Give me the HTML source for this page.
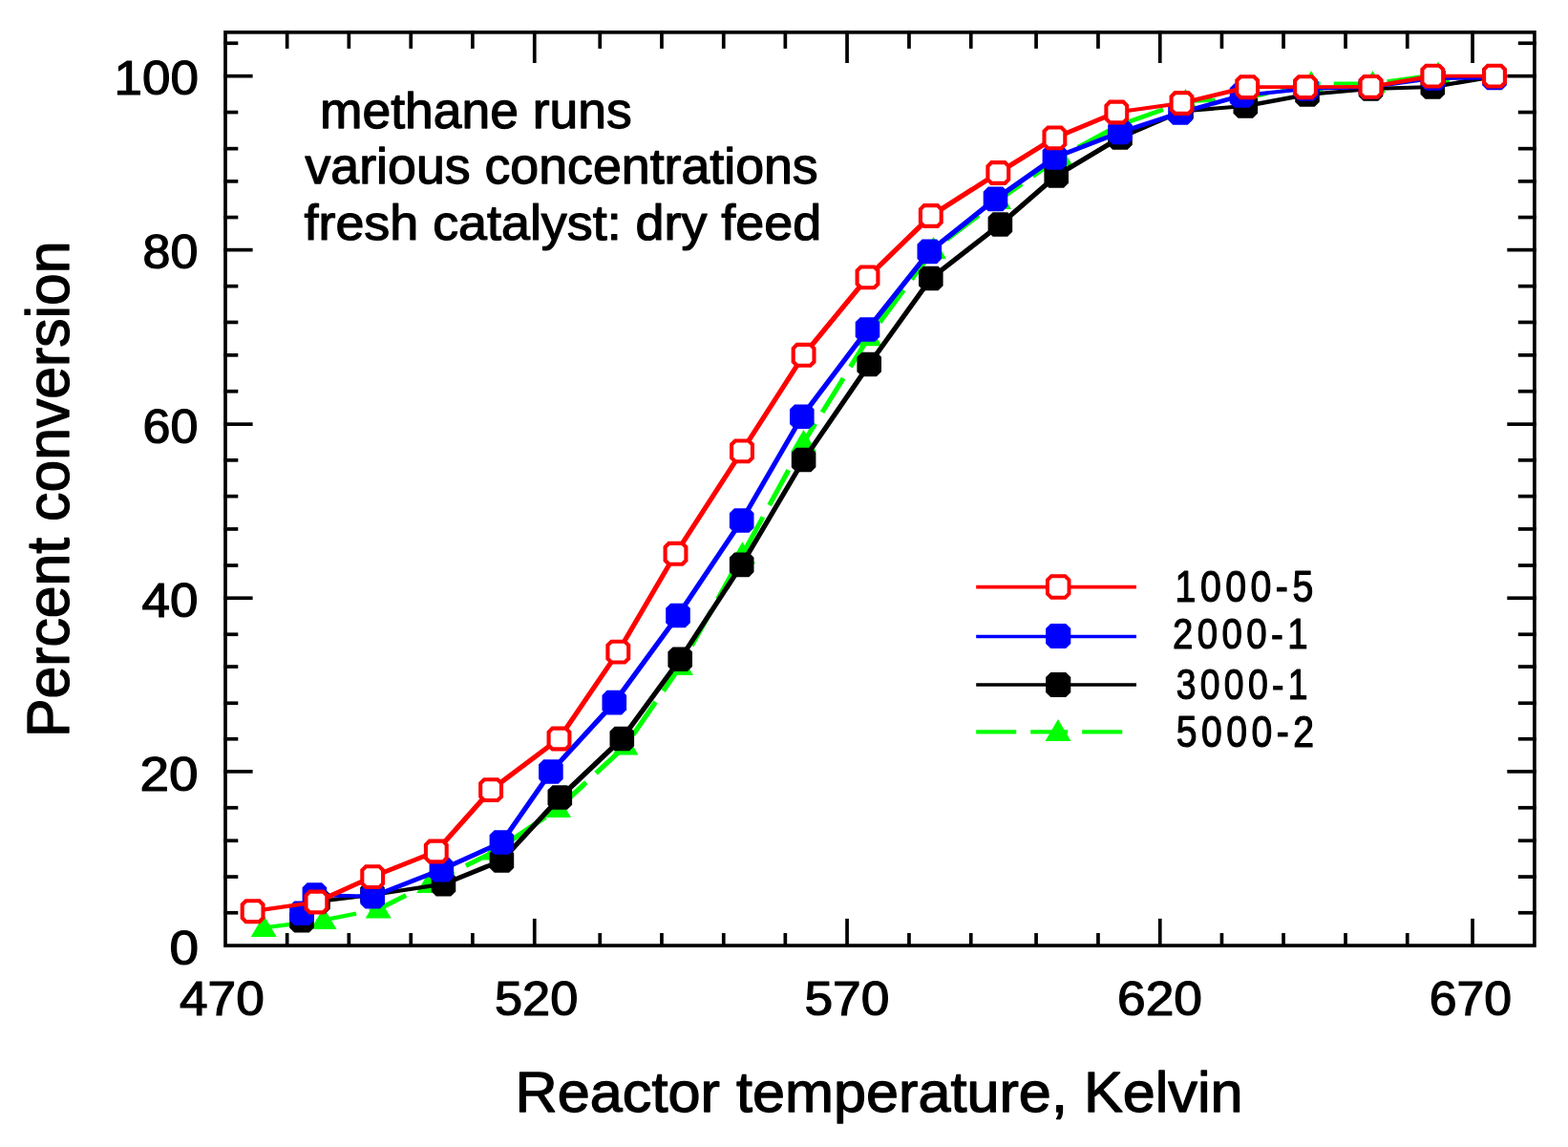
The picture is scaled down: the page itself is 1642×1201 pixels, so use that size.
<!DOCTYPE html>
<html><head><meta charset="utf-8"><title>Percent conversion vs reactor temperature</title>
<style>html,body{margin:0;padding:0;background:#fff;width:1642px;height:1201px;overflow:hidden}svg{display:block}</style>
</head><body>
<svg width="1642" height="1201" viewBox="0 0 1642 1201">
<rect width="1642" height="1201" fill="#fff"/>
<g fill="none" stroke-linejoin="miter" stroke-linecap="butt">
<g stroke-linecap="butt"><line x1="276.2" y1="971.4" x2="339.0" y2="963.4" stroke="#00ff00" stroke-width="4.19" stroke-dasharray="42 14" stroke-dashoffset="0.0"/><line x1="339.0" y1="963.4" x2="396.2" y2="952.0" stroke="#00ff00" stroke-width="4.41" stroke-dasharray="42 14" stroke-dashoffset="63.3"/><line x1="396.2" y1="952.0" x2="449.7" y2="925.4" stroke="#00ff00" stroke-width="5.03" stroke-dasharray="42 14" stroke-dashoffset="121.6"/><line x1="449.7" y1="925.4" x2="519.0" y2="891.0" stroke="#00ff00" stroke-width="5.03" stroke-dasharray="42 14" stroke-dashoffset="181.4"/><line x1="519.0" y1="891.0" x2="584.5" y2="846.4" stroke="#00ff00" stroke-width="5.21" stroke-dasharray="42 14" stroke-dashoffset="258.7"/><line x1="584.5" y1="846.4" x2="655.0" y2="781.0" stroke="#00ff00" stroke-width="5.30" stroke-dasharray="42 14" stroke-dashoffset="338.0"/><line x1="655.0" y1="781.0" x2="712.5" y2="697.4" stroke="#00ff00" stroke-width="5.21" stroke-dasharray="42 14" stroke-dashoffset="434.2"/><line x1="712.5" y1="697.4" x2="777.5" y2="580.7" stroke="#00ff00" stroke-width="5.10" stroke-dasharray="42 14" stroke-dashoffset="535.6"/><line x1="777.5" y1="580.7" x2="841.5" y2="463.4" stroke="#00ff00" stroke-width="5.09" stroke-dasharray="42 14" stroke-dashoffset="669.2"/><line x1="841.5" y1="463.4" x2="910.0" y2="352.7" stroke="#00ff00" stroke-width="5.16" stroke-dasharray="42 14" stroke-dashoffset="802.8"/><line x1="910.0" y1="352.7" x2="977.5" y2="261.4" stroke="#00ff00" stroke-width="5.24" stroke-dasharray="42 14" stroke-dashoffset="933.0"/><line x1="977.5" y1="261.4" x2="1045.5" y2="209.5" stroke="#00ff00" stroke-width="5.26" stroke-dasharray="42 14" stroke-dashoffset="1046.5"/><line x1="1045.5" y1="209.5" x2="1110.0" y2="164.5" stroke="#00ff00" stroke-width="5.22" stroke-dasharray="42 14" stroke-dashoffset="1132.1"/><line x1="1110.0" y1="164.5" x2="1172.0" y2="131.0" stroke="#00ff00" stroke-width="5.08" stroke-dasharray="42 14" stroke-dashoffset="1210.7"/><line x1="1172.0" y1="131.0" x2="1241.5" y2="106.3" stroke="#00ff00" stroke-width="4.79" stroke-dasharray="42 14" stroke-dashoffset="1281.2"/><line x1="1241.5" y1="106.3" x2="1304.0" y2="103.0" stroke="#00ff00" stroke-width="3.94" stroke-dasharray="42 14" stroke-dashoffset="1355.0"/><line x1="1304.0" y1="103.0" x2="1373.0" y2="87.4" stroke="#00ff00" stroke-width="4.48" stroke-dasharray="42 14" stroke-dashoffset="1417.6"/><line x1="1373.0" y1="87.4" x2="1437.5" y2="87.4" stroke="#00ff00" stroke-width="3.75" stroke-dasharray="42 14" stroke-dashoffset="1488.3"/><line x1="1437.5" y1="87.4" x2="1506.0" y2="78.0" stroke="#00ff00" stroke-width="4.23" stroke-dasharray="42 14" stroke-dashoffset="1552.8"/></g>
</g>
<polygon points="276.2,958.0 289.7,981.0 262.7,981.0" fill="#00ff00"/>
<polygon points="339.0,950.0 352.5,973.0 325.5,973.0" fill="#00ff00"/>
<polygon points="396.2,938.6 409.7,961.6 382.7,961.6" fill="#00ff00"/>
<polygon points="449.7,912.0 463.2,935.0 436.2,935.0" fill="#00ff00"/>
<polygon points="519.0,877.6 532.5,900.6 505.5,900.6" fill="#00ff00"/>
<polygon points="584.5,833.0 598.0,856.0 571.0,856.0" fill="#00ff00"/>
<polygon points="655.0,767.6 668.5,790.6 641.5,790.6" fill="#00ff00"/>
<polygon points="712.5,684.0 726.0,707.0 699.0,707.0" fill="#00ff00"/>
<polygon points="777.5,567.3 791.0,590.3 764.0,590.3" fill="#00ff00"/>
<polygon points="841.5,450.0 855.0,473.0 828.0,473.0" fill="#00ff00"/>
<polygon points="910.0,339.3 923.5,362.3 896.5,362.3" fill="#00ff00"/>
<polygon points="977.5,248.0 991.0,271.0 964.0,271.0" fill="#00ff00"/>
<polygon points="1045.5,196.1 1059.0,219.1 1032.0,219.1" fill="#00ff00"/>
<polygon points="1110.0,151.1 1123.5,174.1 1096.5,174.1" fill="#00ff00"/>
<polygon points="1172.0,117.6 1185.5,140.6 1158.5,140.6" fill="#00ff00"/>
<polygon points="1241.5,92.9 1255.0,115.9 1228.0,115.9" fill="#00ff00"/>
<polygon points="1304.0,89.6 1317.5,112.6 1290.5,112.6" fill="#00ff00"/>
<polygon points="1373.0,74.0 1386.5,97.0 1359.5,97.0" fill="#00ff00"/>
<polygon points="1437.5,74.0 1451.0,97.0 1424.0,97.0" fill="#00ff00"/>
<polygon points="1506.0,64.6 1519.5,87.6 1492.5,87.6" fill="#00ff00"/>
<g stroke-linecap="round"><line x1="316.0" y1="963.8" x2="333.0" y2="944.0" stroke="#000000" stroke-width="5.29"/><line x1="333.0" y1="944.0" x2="390.0" y2="937.0" stroke="#000000" stroke-width="4.18"/><line x1="390.0" y1="937.0" x2="464.5" y2="925.7" stroke="#000000" stroke-width="4.27"/><line x1="464.5" y1="925.7" x2="525.4" y2="901.0" stroke="#000000" stroke-width="4.88"/><line x1="525.4" y1="901.0" x2="586.3" y2="835.0" stroke="#000000" stroke-width="5.30"/><line x1="586.3" y1="835.0" x2="651.3" y2="773.5" stroke="#000000" stroke-width="5.30"/><line x1="651.3" y1="773.5" x2="712.2" y2="690.3" stroke="#000000" stroke-width="5.24"/><line x1="712.2" y1="690.3" x2="776.7" y2="591.4" stroke="#000000" stroke-width="5.19"/><line x1="776.7" y1="591.4" x2="841.6" y2="481.5" stroke="#000000" stroke-width="5.14"/><line x1="841.6" y1="481.5" x2="910.2" y2="381.5" stroke="#000000" stroke-width="5.21"/><line x1="910.2" y1="381.5" x2="974.8" y2="291.5" stroke="#000000" stroke-width="5.23"/><line x1="974.8" y1="291.5" x2="1047.4" y2="235.0" stroke="#000000" stroke-width="5.26"/><line x1="1047.4" y1="235.0" x2="1106.2" y2="184.0" stroke="#000000" stroke-width="5.29"/><line x1="1106.2" y1="184.0" x2="1173.0" y2="144.0" stroke="#000000" stroke-width="5.14"/><line x1="1173.0" y1="144.0" x2="1237.0" y2="116.5" stroke="#000000" stroke-width="4.93"/><line x1="1237.0" y1="116.5" x2="1304.3" y2="111.0" stroke="#000000" stroke-width="4.04"/><line x1="1304.3" y1="111.0" x2="1369.0" y2="99.0" stroke="#000000" stroke-width="4.37"/><line x1="1369.0" y1="99.0" x2="1435.5" y2="93.0" stroke="#000000" stroke-width="4.07"/><line x1="1435.5" y1="93.0" x2="1500.3" y2="91.0" stroke="#000000" stroke-width="3.86"/><line x1="1500.3" y1="91.0" x2="1565.0" y2="80.0" stroke="#000000" stroke-width="4.33"/></g>
<polygon points="308.3,951.0 323.7,951.0 328.8,956.1 328.8,971.5 323.7,976.6 308.3,976.6 303.2,971.5 303.2,956.1" fill="#000000"/>
<polygon points="325.3,931.2 340.7,931.2 345.8,936.3 345.8,951.7 340.7,956.8 325.3,956.8 320.2,951.7 320.2,936.3" fill="#000000"/>
<polygon points="382.3,924.2 397.7,924.2 402.8,929.3 402.8,944.7 397.7,949.8 382.3,949.8 377.2,944.7 377.2,929.3" fill="#000000"/>
<polygon points="456.8,912.9 472.2,912.9 477.3,918.0 477.3,933.4 472.2,938.5 456.8,938.5 451.7,933.4 451.7,918.0" fill="#000000"/>
<polygon points="517.7,888.2 533.1,888.2 538.2,893.3 538.2,908.7 533.1,913.8 517.7,913.8 512.6,908.7 512.6,893.3" fill="#000000"/>
<polygon points="578.6,822.2 594.0,822.2 599.1,827.3 599.1,842.7 594.0,847.8 578.6,847.8 573.5,842.7 573.5,827.3" fill="#000000"/>
<polygon points="643.6,760.7 659.0,760.7 664.1,765.8 664.1,781.2 659.0,786.3 643.6,786.3 638.5,781.2 638.5,765.8" fill="#000000"/>
<polygon points="704.5,677.5 719.9,677.5 725.0,682.6 725.0,698.0 719.9,703.1 704.5,703.1 699.4,698.0 699.4,682.6" fill="#000000"/>
<polygon points="769.0,578.6 784.4,578.6 789.5,583.7 789.5,599.1 784.4,604.2 769.0,604.2 763.9,599.1 763.9,583.7" fill="#000000"/>
<polygon points="833.9,468.7 849.3,468.7 854.4,473.8 854.4,489.2 849.3,494.3 833.9,494.3 828.8,489.2 828.8,473.8" fill="#000000"/>
<polygon points="902.5,368.7 917.9,368.7 923.0,373.8 923.0,389.2 917.9,394.3 902.5,394.3 897.4,389.2 897.4,373.8" fill="#000000"/>
<polygon points="967.1,278.7 982.5,278.7 987.6,283.8 987.6,299.2 982.5,304.3 967.1,304.3 962.0,299.2 962.0,283.8" fill="#000000"/>
<polygon points="1039.7,222.2 1055.1,222.2 1060.2,227.3 1060.2,242.7 1055.1,247.8 1039.7,247.8 1034.6,242.7 1034.6,227.3" fill="#000000"/>
<polygon points="1098.5,171.2 1113.9,171.2 1119.0,176.3 1119.0,191.7 1113.9,196.8 1098.5,196.8 1093.4,191.7 1093.4,176.3" fill="#000000"/>
<polygon points="1165.3,131.2 1180.7,131.2 1185.8,136.3 1185.8,151.7 1180.7,156.8 1165.3,156.8 1160.2,151.7 1160.2,136.3" fill="#000000"/>
<polygon points="1229.3,103.7 1244.7,103.7 1249.8,108.8 1249.8,124.2 1244.7,129.3 1229.3,129.3 1224.2,124.2 1224.2,108.8" fill="#000000"/>
<polygon points="1296.6,98.2 1312.0,98.2 1317.1,103.3 1317.1,118.7 1312.0,123.8 1296.6,123.8 1291.5,118.7 1291.5,103.3" fill="#000000"/>
<polygon points="1361.3,86.2 1376.7,86.2 1381.8,91.3 1381.8,106.7 1376.7,111.8 1361.3,111.8 1356.2,106.7 1356.2,91.3" fill="#000000"/>
<polygon points="1427.8,80.2 1443.2,80.2 1448.3,85.3 1448.3,100.7 1443.2,105.8 1427.8,105.8 1422.7,100.7 1422.7,85.3" fill="#000000"/>
<polygon points="1492.6,78.2 1508.0,78.2 1513.1,83.3 1513.1,98.7 1508.0,103.8 1492.6,103.8 1487.5,98.7 1487.5,83.3" fill="#000000"/>
<polygon points="1557.3,67.2 1572.7,67.2 1577.8,72.3 1577.8,87.7 1572.7,92.8 1557.3,92.8 1552.2,87.7 1552.2,72.3" fill="#000000"/>
<g stroke-linecap="round"><line x1="316.0" y1="956.2" x2="329.4" y2="937.0" stroke="#0000ff" stroke-width="5.22"/><line x1="329.4" y1="937.0" x2="390.2" y2="938.8" stroke="#0000ff" stroke-width="3.86"/><line x1="390.2" y1="938.8" x2="462.4" y2="910.6" stroke="#0000ff" stroke-width="4.86"/><line x1="462.4" y1="910.6" x2="525.4" y2="882.0" stroke="#0000ff" stroke-width="4.96"/><line x1="525.4" y1="882.0" x2="576.9" y2="808.0" stroke="#0000ff" stroke-width="5.22"/><line x1="576.9" y1="808.0" x2="643.3" y2="735.6" stroke="#0000ff" stroke-width="5.30"/><line x1="643.3" y1="735.6" x2="710.0" y2="644.5" stroke="#0000ff" stroke-width="5.24"/><line x1="710.0" y1="644.5" x2="776.7" y2="545.0" stroke="#0000ff" stroke-width="5.20"/><line x1="776.7" y1="545.0" x2="839.8" y2="436.2" stroke="#0000ff" stroke-width="5.13"/><line x1="839.8" y1="436.2" x2="908.5" y2="345.0" stroke="#0000ff" stroke-width="5.25"/><line x1="908.5" y1="345.0" x2="973.3" y2="263.4" stroke="#0000ff" stroke-width="5.27"/><line x1="973.3" y1="263.4" x2="1042.5" y2="208.4" stroke="#0000ff" stroke-width="5.27"/><line x1="1042.5" y1="208.4" x2="1104.4" y2="165.0" stroke="#0000ff" stroke-width="5.22"/><line x1="1104.4" y1="165.0" x2="1173.0" y2="138.5" stroke="#0000ff" stroke-width="4.85"/><line x1="1173.0" y1="138.5" x2="1236.0" y2="118.0" stroke="#0000ff" stroke-width="4.73"/><line x1="1236.0" y1="118.0" x2="1300.5" y2="100.0" stroke="#0000ff" stroke-width="4.62"/><line x1="1300.5" y1="100.0" x2="1368.0" y2="93.0" stroke="#0000ff" stroke-width="4.12"/><line x1="1368.0" y1="93.0" x2="1435.5" y2="91.0" stroke="#0000ff" stroke-width="3.86"/><line x1="1435.5" y1="91.0" x2="1501.0" y2="82.0" stroke="#0000ff" stroke-width="4.23"/><line x1="1501.0" y1="82.0" x2="1565.0" y2="81.5" stroke="#0000ff" stroke-width="3.78"/></g>
<polygon points="308.3,943.4 323.7,943.4 328.8,948.5 328.8,963.9 323.7,969.0 308.3,969.0 303.2,963.9 303.2,948.5" fill="#0000ff"/>
<polygon points="321.7,924.2 337.1,924.2 342.2,929.3 342.2,944.7 337.1,949.8 321.7,949.8 316.6,944.7 316.6,929.3" fill="#0000ff"/>
<polygon points="382.5,926.0 397.9,926.0 403.0,931.1 403.0,946.5 397.9,951.6 382.5,951.6 377.4,946.5 377.4,931.1" fill="#0000ff"/>
<polygon points="454.7,897.8 470.1,897.8 475.2,902.9 475.2,918.3 470.1,923.4 454.7,923.4 449.6,918.3 449.6,902.9" fill="#0000ff"/>
<polygon points="517.7,869.2 533.1,869.2 538.2,874.3 538.2,889.7 533.1,894.8 517.7,894.8 512.6,889.7 512.6,874.3" fill="#0000ff"/>
<polygon points="569.2,795.2 584.6,795.2 589.7,800.3 589.7,815.7 584.6,820.8 569.2,820.8 564.1,815.7 564.1,800.3" fill="#0000ff"/>
<polygon points="635.6,722.8 651.0,722.8 656.1,727.9 656.1,743.3 651.0,748.4 635.6,748.4 630.5,743.3 630.5,727.9" fill="#0000ff"/>
<polygon points="702.3,631.7 717.7,631.7 722.8,636.8 722.8,652.2 717.7,657.3 702.3,657.3 697.2,652.2 697.2,636.8" fill="#0000ff"/>
<polygon points="769.0,532.2 784.4,532.2 789.5,537.3 789.5,552.7 784.4,557.8 769.0,557.8 763.9,552.7 763.9,537.3" fill="#0000ff"/>
<polygon points="832.1,423.4 847.5,423.4 852.6,428.5 852.6,443.9 847.5,449.0 832.1,449.0 827.0,443.9 827.0,428.5" fill="#0000ff"/>
<polygon points="900.8,332.2 916.2,332.2 921.3,337.3 921.3,352.7 916.2,357.8 900.8,357.8 895.7,352.7 895.7,337.3" fill="#0000ff"/>
<polygon points="965.6,250.6 981.0,250.6 986.1,255.7 986.1,271.1 981.0,276.2 965.6,276.2 960.5,271.1 960.5,255.7" fill="#0000ff"/>
<polygon points="1034.8,195.6 1050.2,195.6 1055.3,200.7 1055.3,216.1 1050.2,221.2 1034.8,221.2 1029.7,216.1 1029.7,200.7" fill="#0000ff"/>
<polygon points="1096.7,152.2 1112.1,152.2 1117.2,157.3 1117.2,172.7 1112.1,177.8 1096.7,177.8 1091.6,172.7 1091.6,157.3" fill="#0000ff"/>
<polygon points="1165.3,125.7 1180.7,125.7 1185.8,130.8 1185.8,146.2 1180.7,151.3 1165.3,151.3 1160.2,146.2 1160.2,130.8" fill="#0000ff"/>
<polygon points="1228.3,105.2 1243.7,105.2 1248.8,110.3 1248.8,125.7 1243.7,130.8 1228.3,130.8 1223.2,125.7 1223.2,110.3" fill="#0000ff"/>
<polygon points="1292.8,87.2 1308.2,87.2 1313.3,92.3 1313.3,107.7 1308.2,112.8 1292.8,112.8 1287.7,107.7 1287.7,92.3" fill="#0000ff"/>
<polygon points="1360.3,80.2 1375.7,80.2 1380.8,85.3 1380.8,100.7 1375.7,105.8 1360.3,105.8 1355.2,100.7 1355.2,85.3" fill="#0000ff"/>
<polygon points="1427.8,78.2 1443.2,78.2 1448.3,83.3 1448.3,98.7 1443.2,103.8 1427.8,103.8 1422.7,98.7 1422.7,83.3" fill="#0000ff"/>
<polygon points="1493.3,69.2 1508.7,69.2 1513.8,74.3 1513.8,89.7 1508.7,94.8 1493.3,94.8 1488.2,89.7 1488.2,74.3" fill="#0000ff"/>
<polygon points="1557.3,68.7 1572.7,68.7 1577.8,73.8 1577.8,89.2 1572.7,94.3 1557.3,94.3 1552.2,89.2 1552.2,73.8" fill="#0000ff"/>
<g stroke-linecap="round"><line x1="264.6" y1="954.2" x2="331.4" y2="944.5" stroke="#ff0000" stroke-width="4.25"/><line x1="331.4" y1="944.5" x2="390.2" y2="918.1" stroke="#ff0000" stroke-width="4.96"/><line x1="390.2" y1="918.1" x2="456.8" y2="891.5" stroke="#ff0000" stroke-width="4.87"/><line x1="456.8" y1="891.5" x2="514.1" y2="827.1" stroke="#ff0000" stroke-width="5.29"/><line x1="514.1" y1="827.1" x2="585.5" y2="773.5" stroke="#ff0000" stroke-width="5.25"/><line x1="585.5" y1="773.5" x2="647.3" y2="682.6" stroke="#ff0000" stroke-width="5.21"/><line x1="647.3" y1="682.6" x2="707.5" y2="579.8" stroke="#ff0000" stroke-width="5.13"/><line x1="707.5" y1="579.8" x2="777.0" y2="472.4" stroke="#ff0000" stroke-width="5.19"/><line x1="777.0" y1="472.4" x2="841.6" y2="371.8" stroke="#ff0000" stroke-width="5.18"/><line x1="841.6" y1="371.8" x2="908.5" y2="290.4" stroke="#ff0000" stroke-width="5.28"/><line x1="908.5" y1="290.4" x2="974.8" y2="226.0" stroke="#ff0000" stroke-width="5.30"/><line x1="974.8" y1="226.0" x2="1045.3" y2="181.0" stroke="#ff0000" stroke-width="5.18"/><line x1="1045.3" y1="181.0" x2="1104.4" y2="144.4" stroke="#ff0000" stroke-width="5.16"/><line x1="1104.4" y1="144.4" x2="1169.3" y2="117.5" stroke="#ff0000" stroke-width="4.90"/><line x1="1169.3" y1="117.5" x2="1237.5" y2="108.0" stroke="#ff0000" stroke-width="4.23"/><line x1="1237.5" y1="108.0" x2="1306.2" y2="91.2" stroke="#ff0000" stroke-width="4.53"/><line x1="1306.2" y1="91.2" x2="1367.0" y2="91.2" stroke="#ff0000" stroke-width="3.75"/><line x1="1367.0" y1="91.2" x2="1435.5" y2="90.9" stroke="#ff0000" stroke-width="3.77"/><line x1="1435.5" y1="90.9" x2="1500.3" y2="79.6" stroke="#ff0000" stroke-width="4.34"/><line x1="1500.3" y1="79.6" x2="1565.0" y2="79.6" stroke="#ff0000" stroke-width="3.75"/></g>
<polygon points="257.6,943.3 271.6,943.3 275.5,947.2 275.5,961.2 271.6,965.1 257.6,965.1 253.7,961.2 253.7,947.2" fill="#fff" stroke="#ff0000" stroke-width="4.1" stroke-linejoin="miter"/>
<polygon points="324.4,933.6 338.4,933.6 342.3,937.5 342.3,951.5 338.4,955.4 324.4,955.4 320.5,951.5 320.5,937.5" fill="#fff" stroke="#ff0000" stroke-width="4.1" stroke-linejoin="miter"/>
<polygon points="383.2,907.2 397.2,907.2 401.1,911.1 401.1,925.1 397.2,929.0 383.2,929.0 379.3,925.1 379.3,911.1" fill="#fff" stroke="#ff0000" stroke-width="4.1" stroke-linejoin="miter"/>
<polygon points="449.8,880.6 463.8,880.6 467.7,884.5 467.7,898.5 463.8,902.4 449.8,902.4 445.9,898.5 445.9,884.5" fill="#fff" stroke="#ff0000" stroke-width="4.1" stroke-linejoin="miter"/>
<polygon points="507.1,816.2 521.1,816.2 525.0,820.1 525.0,834.1 521.1,838.0 507.1,838.0 503.2,834.1 503.2,820.1" fill="#fff" stroke="#ff0000" stroke-width="4.1" stroke-linejoin="miter"/>
<polygon points="578.5,762.6 592.5,762.6 596.4,766.5 596.4,780.5 592.5,784.4 578.5,784.4 574.6,780.5 574.6,766.5" fill="#fff" stroke="#ff0000" stroke-width="4.1" stroke-linejoin="miter"/>
<polygon points="640.3,671.7 654.3,671.7 658.2,675.6 658.2,689.6 654.3,693.5 640.3,693.5 636.4,689.6 636.4,675.6" fill="#fff" stroke="#ff0000" stroke-width="4.1" stroke-linejoin="miter"/>
<polygon points="700.5,568.9 714.5,568.9 718.4,572.8 718.4,586.8 714.5,590.7 700.5,590.7 696.6,586.8 696.6,572.8" fill="#fff" stroke="#ff0000" stroke-width="4.1" stroke-linejoin="miter"/>
<polygon points="770.0,461.5 784.0,461.5 787.9,465.4 787.9,479.4 784.0,483.3 770.0,483.3 766.1,479.4 766.1,465.4" fill="#fff" stroke="#ff0000" stroke-width="4.1" stroke-linejoin="miter"/>
<polygon points="834.6,360.9 848.6,360.9 852.5,364.8 852.5,378.8 848.6,382.7 834.6,382.7 830.7,378.8 830.7,364.8" fill="#fff" stroke="#ff0000" stroke-width="4.1" stroke-linejoin="miter"/>
<polygon points="901.5,279.5 915.5,279.5 919.4,283.4 919.4,297.4 915.5,301.3 901.5,301.3 897.6,297.4 897.6,283.4" fill="#fff" stroke="#ff0000" stroke-width="4.1" stroke-linejoin="miter"/>
<polygon points="967.8,215.1 981.8,215.1 985.7,219.0 985.7,233.0 981.8,236.9 967.8,236.9 963.9,233.0 963.9,219.0" fill="#fff" stroke="#ff0000" stroke-width="4.1" stroke-linejoin="miter"/>
<polygon points="1038.3,170.1 1052.3,170.1 1056.2,174.0 1056.2,188.0 1052.3,191.9 1038.3,191.9 1034.4,188.0 1034.4,174.0" fill="#fff" stroke="#ff0000" stroke-width="4.1" stroke-linejoin="miter"/>
<polygon points="1097.4,133.5 1111.4,133.5 1115.3,137.4 1115.3,151.4 1111.4,155.3 1097.4,155.3 1093.5,151.4 1093.5,137.4" fill="#fff" stroke="#ff0000" stroke-width="4.1" stroke-linejoin="miter"/>
<polygon points="1162.3,106.6 1176.3,106.6 1180.2,110.5 1180.2,124.5 1176.3,128.4 1162.3,128.4 1158.4,124.5 1158.4,110.5" fill="#fff" stroke="#ff0000" stroke-width="4.1" stroke-linejoin="miter"/>
<polygon points="1230.5,97.1 1244.5,97.1 1248.4,101.0 1248.4,115.0 1244.5,118.9 1230.5,118.9 1226.6,115.0 1226.6,101.0" fill="#fff" stroke="#ff0000" stroke-width="4.1" stroke-linejoin="miter"/>
<polygon points="1299.2,80.3 1313.2,80.3 1317.1,84.2 1317.1,98.2 1313.2,102.1 1299.2,102.1 1295.3,98.2 1295.3,84.2" fill="#fff" stroke="#ff0000" stroke-width="4.1" stroke-linejoin="miter"/>
<polygon points="1360.0,80.3 1374.0,80.3 1377.9,84.2 1377.9,98.2 1374.0,102.1 1360.0,102.1 1356.1,98.2 1356.1,84.2" fill="#fff" stroke="#ff0000" stroke-width="4.1" stroke-linejoin="miter"/>
<polygon points="1428.5,80.0 1442.5,80.0 1446.4,83.9 1446.4,97.9 1442.5,101.8 1428.5,101.8 1424.6,97.9 1424.6,83.9" fill="#fff" stroke="#ff0000" stroke-width="4.1" stroke-linejoin="miter"/>
<polygon points="1493.3,68.7 1507.3,68.7 1511.2,72.6 1511.2,86.6 1507.3,90.5 1493.3,90.5 1489.4,86.6 1489.4,72.6" fill="#fff" stroke="#ff0000" stroke-width="4.1" stroke-linejoin="miter"/>
<polygon points="1558.0,68.7 1572.0,68.7 1575.9,72.6 1575.9,86.6 1572.0,90.5 1558.0,90.5 1554.1,86.6 1554.1,72.6" fill="#fff" stroke="#ff0000" stroke-width="4.1" stroke-linejoin="miter"/>
<line x1="1022.2" y1="614.7" x2="1190" y2="614.7" stroke="#ff0000" stroke-width="3.7"/>
<polygon points="1101.0,603.2 1115.4,603.2 1119.5,607.3 1119.5,621.7 1115.4,625.8 1101.0,625.8 1096.9,621.7 1096.9,607.3" fill="#fff" stroke="#ff0000" stroke-width="3.9" stroke-linejoin="miter"/>
<line x1="1022.2" y1="666.5" x2="1190" y2="666.5" stroke="#0000ff" stroke-width="3.7"/>
<polygon points="1100.3,652.9 1116.1,652.9 1121.3,658.1 1121.3,673.9 1116.1,679.1 1100.3,679.1 1095.1,673.9 1095.1,658.1" fill="#0000ff"/>
<line x1="1022.2" y1="717" x2="1190" y2="717" stroke="#000000" stroke-width="3.7"/>
<polygon points="1100.3,703.9 1116.1,703.9 1121.3,709.1 1121.3,724.9 1116.1,730.1 1100.3,730.1 1095.1,724.9 1095.1,709.1" fill="#000000"/>
<line x1="1022.2" y1="766.4" x2="1190" y2="766.4" stroke="#00ff00" stroke-width="4.4" stroke-dasharray="42 15 39 15 42 100"/>
<polygon points="1108.0,753.1 1121.5,776.1 1094.5,776.1" fill="#00ff00"/>
<g fill="#000">
<rect x="236.0" y="33.8" width="1370.9" height="956.3" fill="none" stroke="#000" stroke-width="3.7"/>
<rect x="298.8" y="977.0" width="3.7" height="14.9"/>
<rect x="298.8" y="31.9" width="3.7" height="19.0"/>
<rect x="363.5" y="977.0" width="3.7" height="14.9"/>
<rect x="363.5" y="31.9" width="3.7" height="19.0"/>
<rect x="428.4" y="977.0" width="3.7" height="14.9"/>
<rect x="428.4" y="31.9" width="3.7" height="19.0"/>
<rect x="493.0" y="977.0" width="3.7" height="14.9"/>
<rect x="493.0" y="31.9" width="3.7" height="19.0"/>
<rect x="557.9" y="961.9" width="3.7" height="30.0"/>
<rect x="557.9" y="31.9" width="3.7" height="34.1"/>
<rect x="626.4" y="977.0" width="3.7" height="14.9"/>
<rect x="626.4" y="31.9" width="3.7" height="19.0"/>
<rect x="691.1" y="977.0" width="3.7" height="14.9"/>
<rect x="691.1" y="31.9" width="3.7" height="19.0"/>
<rect x="755.9" y="977.0" width="3.7" height="14.9"/>
<rect x="755.9" y="31.9" width="3.7" height="19.0"/>
<rect x="820.5" y="977.0" width="3.7" height="14.9"/>
<rect x="820.5" y="31.9" width="3.7" height="19.0"/>
<rect x="885.2" y="961.9" width="3.7" height="30.0"/>
<rect x="885.2" y="31.9" width="3.7" height="34.1"/>
<rect x="950.1" y="977.0" width="3.7" height="14.9"/>
<rect x="950.1" y="31.9" width="3.7" height="19.0"/>
<rect x="1014.9" y="977.0" width="3.7" height="14.9"/>
<rect x="1014.9" y="31.9" width="3.7" height="19.0"/>
<rect x="1083.2" y="977.0" width="3.7" height="14.9"/>
<rect x="1083.2" y="31.9" width="3.7" height="19.0"/>
<rect x="1148.1" y="977.0" width="3.7" height="14.9"/>
<rect x="1148.1" y="31.9" width="3.7" height="19.0"/>
<rect x="1212.9" y="961.9" width="3.7" height="30.0"/>
<rect x="1212.9" y="31.9" width="3.7" height="34.1"/>
<rect x="1277.6" y="977.0" width="3.7" height="14.9"/>
<rect x="1277.6" y="31.9" width="3.7" height="19.0"/>
<rect x="1342.2" y="977.0" width="3.7" height="14.9"/>
<rect x="1342.2" y="31.9" width="3.7" height="19.0"/>
<rect x="1407.2" y="977.0" width="3.7" height="14.9"/>
<rect x="1407.2" y="31.9" width="3.7" height="19.0"/>
<rect x="1471.9" y="977.0" width="3.7" height="14.9"/>
<rect x="1471.9" y="31.9" width="3.7" height="19.0"/>
<rect x="1540.2" y="961.9" width="3.7" height="30.0"/>
<rect x="1540.2" y="31.9" width="3.7" height="34.1"/>
<rect x="234.2" y="953.9" width="15.1" height="3.7"/>
<rect x="1589.8" y="953.9" width="19.0" height="3.7"/>
<rect x="234.2" y="916.2" width="15.1" height="3.7"/>
<rect x="1589.8" y="916.2" width="19.0" height="3.7"/>
<rect x="234.2" y="878.4" width="15.1" height="3.7"/>
<rect x="1589.8" y="878.4" width="19.0" height="3.7"/>
<rect x="234.2" y="843.9" width="15.1" height="3.7"/>
<rect x="1589.8" y="843.9" width="19.0" height="3.7"/>
<rect x="234.2" y="806.0" width="30.4" height="3.7"/>
<rect x="1578.3" y="806.0" width="30.5" height="3.7"/>
<rect x="234.2" y="771.9" width="15.1" height="3.7"/>
<rect x="1589.8" y="771.9" width="19.0" height="3.7"/>
<rect x="234.2" y="734.4" width="15.1" height="3.7"/>
<rect x="1589.8" y="734.4" width="19.0" height="3.7"/>
<rect x="234.2" y="696.2" width="15.1" height="3.7"/>
<rect x="1589.8" y="696.2" width="19.0" height="3.7"/>
<rect x="234.2" y="662.4" width="15.1" height="3.7"/>
<rect x="1589.8" y="662.4" width="19.0" height="3.7"/>
<rect x="234.2" y="624.4" width="30.4" height="3.7"/>
<rect x="1578.3" y="624.4" width="30.5" height="3.7"/>
<rect x="234.2" y="590.2" width="15.1" height="3.7"/>
<rect x="1589.8" y="590.2" width="19.0" height="3.7"/>
<rect x="234.2" y="552.1" width="15.1" height="3.7"/>
<rect x="1589.8" y="552.1" width="19.0" height="3.7"/>
<rect x="234.2" y="517.8" width="15.1" height="3.7"/>
<rect x="1589.8" y="517.8" width="19.0" height="3.7"/>
<rect x="234.2" y="480.0" width="15.1" height="3.7"/>
<rect x="1589.8" y="480.0" width="19.0" height="3.7"/>
<rect x="234.2" y="442.3" width="30.4" height="3.7"/>
<rect x="1578.3" y="442.3" width="30.5" height="3.7"/>
<rect x="234.2" y="407.9" width="15.1" height="3.7"/>
<rect x="1589.8" y="407.9" width="19.0" height="3.7"/>
<rect x="234.2" y="370.0" width="15.1" height="3.7"/>
<rect x="1589.8" y="370.0" width="19.0" height="3.7"/>
<rect x="234.2" y="335.6" width="15.1" height="3.7"/>
<rect x="1589.8" y="335.6" width="19.0" height="3.7"/>
<rect x="234.2" y="297.8" width="15.1" height="3.7"/>
<rect x="1589.8" y="297.8" width="19.0" height="3.7"/>
<rect x="234.2" y="259.8" width="30.4" height="3.7"/>
<rect x="1578.3" y="259.8" width="30.5" height="3.7"/>
<rect x="234.2" y="225.7" width="15.1" height="3.7"/>
<rect x="1589.8" y="225.7" width="19.0" height="3.7"/>
<rect x="234.2" y="188.0" width="15.1" height="3.7"/>
<rect x="1589.8" y="188.0" width="19.0" height="3.7"/>
<rect x="234.2" y="153.8" width="15.1" height="3.7"/>
<rect x="1589.8" y="153.8" width="19.0" height="3.7"/>
<rect x="234.2" y="115.7" width="15.1" height="3.7"/>
<rect x="1589.8" y="115.7" width="19.0" height="3.7"/>
<rect x="234.2" y="77.8" width="30.4" height="3.7"/>
<rect x="1578.3" y="77.8" width="30.5" height="3.7"/>
<rect x="234.2" y="43.4" width="15.1" height="3.7"/>
<rect x="1589.8" y="43.4" width="19.0" height="3.7"/>
</g>
<g font-family="'Liberation Sans', Arial, Helvetica, sans-serif" fill="#000" stroke="#000" stroke-width="1.30" stroke-linejoin="round">
<text class="t" transform="translate(177.46,1009.64) scale(1.0370,0.9590)" font-size="53">0</text>
<text class="t" transform="translate(146.43,827.54) scale(1.0357,0.9590)" font-size="53">20</text>
<text class="t" transform="translate(148.50,645.94) scale(1.0000,0.9590)" font-size="53">40</text>
<text class="t" transform="translate(149.54,463.84) scale(0.9821,0.9590)" font-size="53">60</text>
<text class="t" transform="translate(149.54,281.24) scale(0.9821,0.9590)" font-size="53">80</text>
<text class="t" transform="translate(119.50,99.24) scale(1.0000,0.9590)" font-size="53">100</text>
<text class="t" transform="translate(187.94,1062.55) scale(1.0058,0.9487)" font-size="53">470</text>
<text class="t" transform="translate(517.92,1062.55) scale(0.9882,0.9487)" font-size="53">520</text>
<text class="t" transform="translate(842.44,1062.55) scale(1.0059,0.9487)" font-size="53">570</text>
<text class="t" transform="translate(1170.04,1062.55) scale(1.0059,0.9487)" font-size="53">620</text>
<text class="t" transform="translate(1496.75,1062.55) scale(0.9765,0.9487)" font-size="53">670</text>
<text class="t" transform="translate(1230.55,630.25) scale(0.8179,0.9486)" font-size="48" letter-spacing="5.5">1000-5</text>
<text class="t" transform="translate(1227.90,679.27) scale(0.8006,0.9343)" font-size="48" letter-spacing="5.5">2000-1</text>
<text class="t" transform="translate(1231.72,732.36) scale(0.7787,0.9371)" font-size="48" letter-spacing="5.5">3000-1</text>
<text class="t" transform="translate(1231.68,781.65) scale(0.8161,0.9514)" font-size="48" letter-spacing="5.5">5000-2</text>
<text class="t" transform="translate(335.03,134.04) scale(0.9893,0.9634)" font-size="54">methane runs</text>
<text class="t" transform="translate(319.50,191.52) scale(0.9944,0.9756)" font-size="54">various concentrations</text>
<text class="t" transform="translate(318.50,251.08) scale(0.9972,0.9519)" font-size="54">fresh catalyst: dry feed</text>
<text class="t" transform="translate(539.55,1163.97) scale(0.9876,0.9661)" font-size="62">Reactor temperature, Kelvin</text>
<text class="t" transform="translate(72.48,771.92) rotate(-90) scale(0.9790,1.0217)" font-size="62">Percent conversion</text>
</g>
</svg>
</body></html>
